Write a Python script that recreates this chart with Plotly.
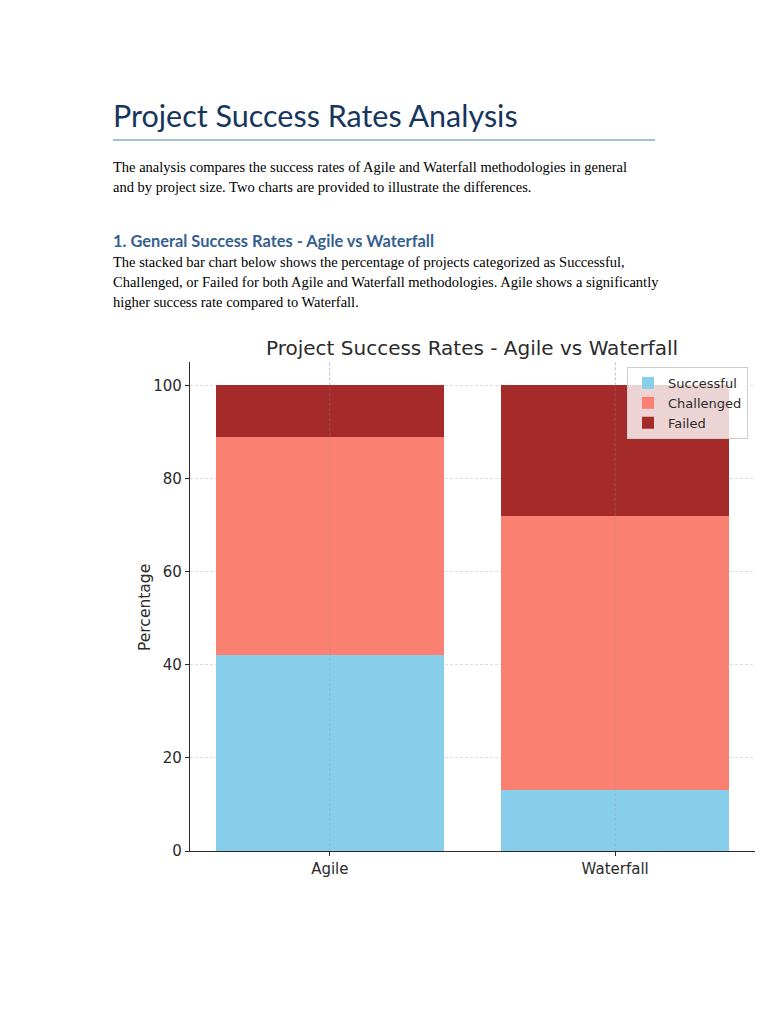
import plotly.graph_objects as go

W, H = 768, 1024
OFF = 8  # page body margin offset

# ---- data ----
categories = ["Agile", "Waterfall"]
successful = [42, 13]
challenged = [47, 59]
failed = [11, 28]
series_names = ["Successful", "Challenged", "Failed"]
series_colors = ["#87CEEB", "#FA8072", "#A52A2A"]
y_ticks = [0, 20, 40, 60, 80, 100]

doc_title = "Project Success Rates Analysis"
intro_lines = [
    "The analysis compares the success rates of Agile and Waterfall methodologies in general",
    "and by project size. Two charts are provided to illustrate the differences.",
]
heading1 = "1. General Success Rates - Agile vs Waterfall"
para1_lines = [
    "The stacked bar chart below shows the percentage of projects categorized as Successful,",
    "Challenged, or Failed for both Agile and Waterfall methodologies. Agile shows a significantly",
    "higher success rate compared to Waterfall.",
]
chart_title = "Project Success Rates - Agile vs Waterfall"
y_label = "Percentage"

def px_x(p):
    return (p - OFF) / W

def px_y(p):
    return 1 - (p - OFF) / H

fig = go.Figure()
for name, vals, col in zip(series_names, [successful, challenged, failed], series_colors):
    fig.add_trace(go.Bar(x=categories, y=vals, name=name, marker=dict(color=col, line=dict(width=0))))

chart_font = "DejaVu Sans"
txt = "#2b2b2b"
grid_dash = "3px,2px"

fig.update_layout(
    width=W, height=H,
    margin=dict(l=0, r=0, t=0, b=0),
    paper_bgcolor="white", plot_bgcolor="white",
    barmode="stack", bargap=0.2,
    showlegend=True,
    legend=dict(
        x=px_x(748), y=px_y(367), xanchor="right", yanchor="top",
        bgcolor="rgba(255,255,255,0.8)", bordercolor="#cccccc", borderwidth=1,
        font=dict(family=chart_font, size=13, color=txt),
        traceorder="normal", tracegroupgap=0,
    ),
    xaxis=dict(
        domain=[px_x(190), px_x(755)],
        type="category", range=[-0.49, 1.49],
        showline=True, linecolor=txt, linewidth=1.3,
        ticks="outside", ticklen=4, tickcolor=txt,
        showgrid=True, gridcolor="#dddddd", griddash=grid_dash, gridwidth=1,
        zeroline=False,
        tickfont=dict(family=chart_font, size=15, color=txt),
        automargin=False,
    ),
    yaxis=dict(
        domain=[px_y(851), px_y(362)],
        range=[0, 105],
        tickvals=y_ticks,
        showline=True, linecolor=txt, linewidth=1.3,
        ticks="outside", ticklen=4, tickcolor=txt,
        showgrid=True, gridcolor="#dddddd", griddash=grid_dash, gridwidth=1,
        zeroline=False,
        tickfont=dict(family=chart_font, size=15, color=txt),
        automargin=False,
    ),
)

# faint vertical grid lines drawn over the bars (as in the reference)
for c in categories:
    fig.add_shape(type="line", xref="x", yref="y domain", x0=c, x1=c, y0=0, y1=1,
                  line=dict(color="rgba(150,150,150,0.35)", width=1, dash=grid_dash), layer="above")

# ---- document text ----
serif = "Liberation Serif"
fig.add_annotation(text=doc_title, x=px_x(111), y=px_y(115), xref="paper", yref="paper",
                   xanchor="left", yanchor="middle", showarrow=False,
                   font=dict(family="Lato", size=30.5, color="#17365D"))
fig.add_shape(type="line", xref="paper", yref="paper", x0=px_x(113), x1=px_x(655),
              y0=px_y(140), y1=px_y(140), line=dict(color="#4F81BD", width=1))

for i, line in enumerate(intro_lines):
    fig.add_annotation(text=line, x=px_x(111), y=px_y(167 + 20 * i), xref="paper", yref="paper",
                       xanchor="left", yanchor="middle", showarrow=False,
                       font=dict(family=serif, size=14.5, color="#000000"))

fig.add_annotation(text=heading1, x=px_x(111), y=px_y(240), xref="paper", yref="paper",
                   xanchor="left", yanchor="middle", showarrow=False,
                   font=dict(family="Lato", size=16.4, color="#365F91", weight="bold"))

for i, line in enumerate(para1_lines):
    fig.add_annotation(text=line, x=px_x(111), y=px_y(262 + 20 * i), xref="paper", yref="paper",
                       xanchor="left", yanchor="middle", showarrow=False,
                       font=dict(family=serif, size=14.5, color="#000000"))

# ---- chart texts ----
fig.add_annotation(text=chart_title, x=px_x(472), y=px_y(348), xref="paper", yref="paper",
                   xanchor="center", yanchor="middle", showarrow=False,
                   font=dict(family=chart_font, size=20, color=txt))
fig.add_annotation(text=y_label, x=px_x(145), y=px_y(608), xref="paper", yref="paper",
                   xanchor="center", yanchor="middle", showarrow=False, textangle=-90,
                   font=dict(family=chart_font, size=15.5, color=txt))

fig.write_html("out.html")
